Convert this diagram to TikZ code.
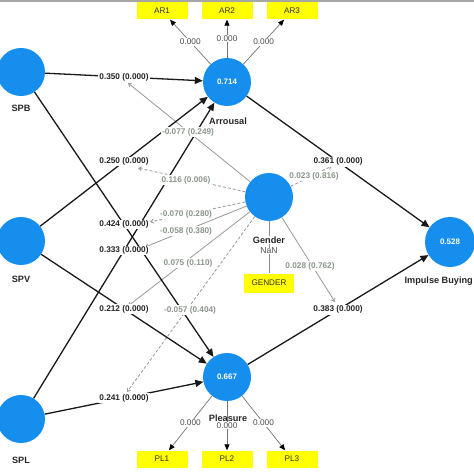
\documentclass[tikz,border=0pt]{standalone}
\usepackage{fontspec}
\setmainfont{Liberation Sans}
\usetikzlibrary{arrows.meta}
\definecolor{lvblue}{RGB}{22,142,238}
\definecolor{modgray}{RGB}{140,150,140}
\definecolor{indyellow}{RGB}{255,255,0}
\begin{document}
\begin{tikzpicture}[x=1bp,y=-1bp,
  lv/.style={circle,fill=lvblue,minimum size=48bp,inner sep=0pt,text=white,font=\fontsize{8}{9}\selectfont\bfseries},
  ind/.style={fill=indyellow,minimum width=51bp,minimum height=17bp,inner sep=0pt,font=\fontsize{8.2}{9}\selectfont,text=black!80},
  lvname/.style={font=\fontsize{9.2}{10}\selectfont\bfseries,text=black!85},
  pathln/.style={line width=1.3bp,draw=black!90,-{Triangle[length=8bp,width=7bp]}},
  plab/.style={fill=white,inner sep=1bp,font=\fontsize{8.3}{9}\selectfont\bfseries,text=black!85},
  modln/.style={draw=black!40,line width=0.8bp,-{Straight Barb[length=3bp,width=4bp]}},
  modlnd/.style={modln,dash pattern=on 3bp off 2bp},
  mlab/.style={fill=white,inner sep=1bp,font=\fontsize{8.3}{9}\selectfont\bfseries,text=modgray},
  loadln/.style={draw=black!55,line width=0.7bp,-{Triangle[length=6bp,width=5bp,color=black]}},
  llab/.style={fill=white,inner sep=0.8bp,font=\fontsize{8.3}{9}\selectfont,text=black!70}
]
\useasboundingbox (0,0) rectangle (474,474);
\clip (0,0) rectangle (474,474);
\fill[white] (0,0) rectangle (474,474);
\fill[black!35] (0,0) rectangle (474,2);

% latent variables
\node[lv] (SPB) at (21,72) {};
\node[lv] (SPV) at (21,241) {};
\node[lv] (SPL) at (21,419) {};
\node[lv] (A) at (227,82) {0.714};
\node[lv] (G) at (269,197) {};
\node[lv] (P) at (227,377) {0.667};
\node[lv,minimum size=50bp] (IB) at (450,242) {0.528};

% indicators
\node[ind] (AR1) at (162,11) {AR1};
\node[ind] (AR2) at (227,11) {AR2};
\node[ind] (AR3) at (292,11) {AR3};
\node[ind] (PL1) at (162,459) {PL1};
\node[ind] (PL2) at (227,459) {PL2};
\node[ind] (PL3) at (292,459) {PL3};
\node[ind,minimum width=50bp,minimum height=19bp] (GB) at (269,283) {GENDER};

% moderation end points
\coordinate (m1) at (128,83);
\coordinate (m2) at (138,168);
\coordinate (m3) at (150,222);
\coordinate (m4) at (145,247);
\coordinate (m5) at (128,306);
\coordinate (m6) at (127,392);
\coordinate (m7) at (332,166);
\coordinate (m8) at (335,302);

% moderation lines
\draw[modln] (G) -- (m1);
\draw[modlnd] (G) -- (m2);
\draw[modlnd] (G) -- (m3);
\draw[modln] (G) -- (m4);
\draw[modln] (G) -- (m5);
\draw[modlnd] (G) -- (m6);
\draw[modlnd] (G) -- (m7);
\draw[modln] (G) -- (m8);

% gender indicator
\draw[draw=black!45,line width=0.8bp] (G) -- (GB);

% loadings
\draw[loadln] (A) -- (AR1);
\draw[loadln] (A) -- (AR2);
\draw[loadln] (A) -- (AR3);
\draw[loadln] (P) -- (PL1);
\draw[loadln] (P) -- (PL2);
\draw[loadln] (P) -- (PL3);

% structural paths
\draw[pathln] (SPB) -- (A);
\draw[pathln] (SPB) -- (P);
\draw[pathln] (SPV) -- (A);
\draw[pathln] (SPV) -- (P);
\draw[pathln] (SPL) -- (A);
\draw[pathln] (SPL) -- (P);
\draw[pathln] (A) -- (IB);
\draw[pathln] (P) -- (IB);

% loading labels
\path (A) -- (AR1) node[midway,llab] {0.000};
\path (A) -- (AR2) node[midway,llab] {0.000};
\path (A) -- (AR3) node[midway,llab] {0.000};
\path (P) -- (PL1) node[midway,llab] {0.000};
\path (P) -- (PL2) node[midway,llab] {0.000};
\path (P) -- (PL3) node[midway,llab] {0.000};

% path labels
\path (SPB) -- (A) node[midway,plab] {0.350 (0.000)};
\path (SPB) -- (P) node[midway,plab] {0.424 (0.000)};
\path (SPV) -- (A) node[midway,plab] {0.250 (0.000)};
\path (SPV) -- (P) node[midway,plab] {0.212 (0.000)};
\path (SPL) -- (A) node[midway,plab] {0.333 (0.000)};
\path (SPL) -- (P) node[midway,plab] {0.241 (0.000)};
\path (A) -- (IB) node[midway,plab] {0.361 (0.000)};
\path (P) -- (IB) node[midway,plab] {0.383 (0.000)};

% moderation labels
\node[mlab] (ml1) at (188,132) {-0.077 (0.249)};
\node[mlab] (ml2) at (186,180) {0.116 (0.006)};
\node[mlab] (ml3) at (186,214) {-0.070 (0.280)};
\node[mlab] (ml4) at (186,231) {-0.058 (0.380)};
\node[mlab] (ml5) at (188,263) {0.075 (0.110)};
\node[mlab] (ml6) at (190,310) {-0.057 (0.404)};
\node[mlab] (ml7) at (314,176) {0.023 (0.816)};
\node[mlab] (ml8) at (310,266) {0.028 (0.762)};

% names
\node[lvname] (nSPB) at (21,108) {SPB};
\node[lvname] (nSPV) at (21,279) {SPV};
\node[lvname] (nSPL) at (21,460) {SPL};
\node[lvname] (nA) at (228,121) {Arrousal};
\node[lvname] (nP) at (228,418) {Pleasure};
\node[lvname,anchor=east,inner sep=0pt] (nIB) at (473,281) {Impulse Buying};
\node[lvname,fill=white,inner sep=0.5bp] (nG) at (269,240) {Gender};
\node[fill=white,inner sep=0.5bp,font=\fontsize{8.6}{9}\selectfont,text=black!70] (nNaN) at (269,251) {NaN};
\end{tikzpicture}
\end{document}
